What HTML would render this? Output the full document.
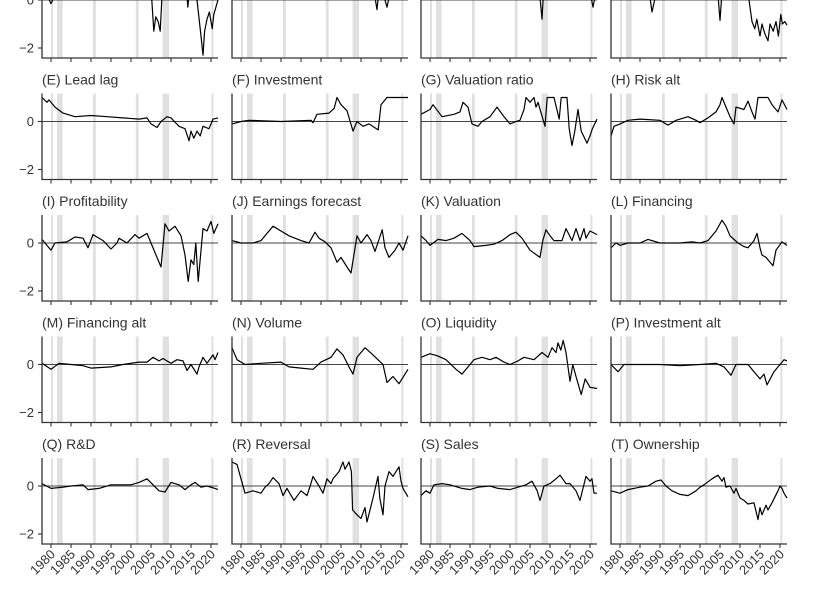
<!DOCTYPE html>
<html><head><meta charset="utf-8">
<style>
html,body{margin:0;padding:0;background:#fff;}
svg{display:block;font-family:"Liberation Sans",sans-serif;}
</style></head>
<body>
<svg id="chart" width="820" height="600" viewBox="0 0 820 600"></svg>
<script>
const recessions = [[1980.0,1980.5],[1981.5,1982.9],[1990.5,1991.2],[2001.2,2001.9],[2007.9,2009.5],[2020.1,2020.4]];
const xTicks = [1980,1985,1990,1995,2000,2005,2010,2015,2020];
const yTicks = [0,-2];
const yTickLabels = ["0","\u22122"];
const titles = ["(A)","(B)","(C)","(D)","(E) Lead lag","(F) Investment","(G) Valuation ratio","(H) Risk alt","(I) Profitability","(J) Earnings forecast","(K) Valuation","(L) Financing","(M) Financing alt","(N) Volume","(O) Liquidity","(P) Investment alt","(Q) R&D","(R) Reversal","(S) Sales","(T) Ownership"];

const seriesA = [[1977.75,0.1],[1979,0.2],[1980,-0.15],[1981,0.2],[1990,0.2],[2004,0.3],[2005.2,0],[2005.7,-1.3],[2006.2,-0.7],[2006.8,-0.9],[2007.3,-1.3],[2007.7,0],[2009,0.2],[2014,0.2],[2014.2,-0.3],[2014.5,0.2],[2016.5,0],[2017.5,-1.5],[2018,-2.3],[2018.4,-1.3],[2019,-0.8],[2019.6,-0.5],[2020.3,-1.2],[2020.7,-0.6],[2021.75,0]];
const seriesB = [[1977.75,0.3],[1990,0.3],[2013.5,0.1],[2014,-0.4],[2014.3,0.1],[2016,0],[2016.5,-0.3],[2017,0.1],[2021.75,0.2]];
const seriesC = [[1977.75,0.2],[1981,0.05],[1982,0.2],[2007.5,0.1],[2008,-0.8],[2008.3,0.1],[2020.3,0.1],[2020.75,-0.3],[2021.2,0.1],[2021.75,0.2]];
const seriesD = [[1977.75,0.3],[1987.5,0.1],[1988,-0.5],[1988.8,0.1],[2004.5,0.2],[2005,-0.85],[2005.4,0.1],[2012,0.3],[2012.5,-0.3],[2013,-0.9],[2013.7,-1.2],[2014.2,-0.8],[2015,-1.5],[2015.5,-1.0],[2016.2,-1.4],[2017,-1.7],[2017.5,-1.0],[2018.3,-1.3],[2019,-0.9],[2019.6,-1.5],[2020.2,-0.6],[2020.6,-1.0],[2021.2,-0.9],[2021.75,-1.05]];
const seriesE = [[1977.75,1.0],[1979,0.8],[1979.5,0.9],[1981,0.6],[1983,0.35],[1986,0.2],[1990,0.25],[1994,0.2],[1998,0.15],[2002,0.1],[2004,0.15],[2005,-0.1],[2006.5,-0.25],[2007.5,0],[2009,0.2],[2010,0.15],[2012,-0.2],[2013.5,-0.3],[2014.5,-0.8],[2015,-0.4],[2015.7,-0.7],[2016.5,-0.4],[2017.3,-0.6],[2018,-0.2],[2019.5,-0.3],[2020.5,0.1],[2021.75,0.15]];
const seriesF = [[1977.75,-0.1],[1980,0],[1982,0.05],[1990,0],[1997.5,0.05],[1998,-0.05],[1999,0.3],[2002,0.35],[2003.3,0.55],[2004,1.0],[2005,0.7],[2006.5,0.45],[2008,-0.4],[2009,0],[2010.5,-0.2],[2012,-0.1],[2014.3,-0.35],[2015,0.7],[2016.5,1.0],[2021.75,1.0]];
const seriesG = [[1977.75,0.3],[1980,0.5],[1980.75,0.7],[1983,0.2],[1986,0.3],[1987.5,0.4],[1988.25,0.8],[1989.5,0.6],[1990.5,-0.1],[1992,-0.2],[1993,0],[1995,0.2],[1996.75,0.6],[1998.5,0.2],[2000,-0.1],[2001.5,0],[2002.5,0.05],[2003.5,0.5],[2004,1.0],[2005,0.8],[2006,1.0],[2006.5,0.6],[2007,0.8],[2008.75,-0.2],[2009.3,1.0],[2011,1.0],[2012.3,0.1],[2012.8,1.0],[2014.25,1.0],[2014.8,-0.3],[2015.5,-1.0],[2016.2,-0.4],[2017,0.5],[2017.8,-0.4],[2019.25,-0.9],[2020,-0.6],[2020.6,-0.3],[2021.75,0.1]];
const seriesH = [[1977.75,-0.6],[1978.5,-0.2],[1980,-0.1],[1982,0.05],[1985,0.1],[1990,0.05],[1992,-0.15],[1994,0.05],[1997,0.2],[1999,0.05],[2000,-0.05],[2002,0.15],[2004,0.4],[2005,0.7],[2005.5,1.0],[2006.5,0.6],[2007.5,0.2],[2008.5,-0.1],[2009,0.6],[2011,0.5],[2012,0.85],[2013,0.4],[2013.75,0.1],[2014.5,1.0],[2017,1.0],[2018,0.7],[2019.5,0.4],[2020.5,0.9],[2021.75,0.5]];
const seriesI = [[1977.75,0.15],[1980,-0.3],[1981,0],[1984,0.05],[1986,0.25],[1988,0.2],[1989.25,-0.2],[1990.5,0.35],[1993,0.1],[1995,-0.25],[1996.5,0],[1997,0.2],[1999,0],[2001,0.35],[2002,0.2],[2004,0.4],[2005,0],[2007.5,-1.0],[2008.5,0.8],[2009.5,0.5],[2011,0.7],[2012.5,0.3],[2013.5,-0.5],[2014.3,-1.6],[2015,-0.7],[2015.7,-0.9],[2016.2,0],[2016.8,-1.6],[2018,0.6],[2019,0.5],[2020,0.9],[2020.7,0.4],[2021.75,0.8]];
const seriesJ = [[1977.75,0.1],[1980,0],[1983,0],[1985,0.1],[1986.5,0.4],[1988,0.7],[1990,0.5],[1992,0.3],[1995,0.1],[1997,0],[1998.5,0.45],[1999.5,0.2],[2001,0.05],[2002.5,-0.2],[2004,-0.8],[2005,-0.6],[2006.5,-1.0],[2007.5,-1.25],[2009,0.3],[2010,0],[2011.5,0.35],[2012.5,0.1],[2013.5,-0.35],[2015.3,0.55],[2016,-0.2],[2017,-0.6],[2018.5,-0.3],[2019.5,0],[2020.5,-0.3],[2021.75,0.3]];
const seriesK = [[1977.75,0.3],[1979,0.1],[1980,-0.1],[1982,0.15],[1984,0.1],[1986,0.2],[1988,0.4],[1990,0.1],[1991,-0.15],[1994,-0.1],[1996,-0.05],[1998,0.1],[2000,0.35],[2001.5,0.45],[2003,0.2],[2005,-0.3],[2007.5,-0.6],[2008.2,0.1],[2009,0.55],[2010,0.3],[2011,0.1],[2013,0.1],[2014,0.6],[2015.5,0.1],[2016.5,0.6],[2017.5,0.1],[2018.5,0.6],[2019,0.2],[2020,0.5],[2021.75,0.35]];
const seriesL = [[1977.75,-0.2],[1979,0],[1980,-0.1],[1982,0],[1985,0],[1987,0.15],[1990,0],[1995,0],[1998,0.05],[2000,0],[2002,0.1],[2004,0.5],[2005.5,0.95],[2006.5,0.7],[2007.5,0.3],[2009.5,0],[2011,-0.15],[2012,-0.2],[2013.5,0.1],[2014.25,0.4],[2015,-0.2],[2015.5,-0.5],[2016.5,-0.6],[2018.25,-0.95],[2019,-0.3],[2020.5,0.05],[2021.75,-0.1]];
const seriesM = [[1977.75,0.05],[1980,-0.2],[1982,0.05],[1985,0],[1988,-0.05],[1990,-0.15],[1995,-0.1],[1998,0],[2002,0.1],[2004,0.1],[2005.5,0.3],[2007,0.15],[2008,0.25],[2010,0.05],[2011.5,0.2],[2013,0.15],[2014,-0.25],[2015,0],[2016.5,-0.4],[2017,-0.1],[2018,0.3],[2019,0.05],[2020.5,0.4],[2021,0.2],[2021.75,0.5]];
const seriesN = [[1977.75,0.7],[1979,0.2],[1981,0],[1985,0.05],[1990,0.1],[1992,-0.1],[1995,-0.15],[1998,-0.2],[2000,0.1],[2002.5,0.3],[2004,0.65],[2005.5,0.4],[2007,-0.1],[2008,-0.4],[2009,0.3],[2011,0.7],[2013,0.4],[2015.5,0],[2016.5,-0.75],[2018,-0.5],[2019.5,-0.8],[2021.75,-0.2]];
const seriesO = [[1977.75,0.3],[1980,0.45],[1982,0.35],[1984,0.2],[1986.5,-0.2],[1988,-0.4],[1990,0],[1991,0.2],[1993,0.3],[1995,0.2],[1996.5,0.3],[1998.5,0.1],[2000,0],[2002,0.15],[2003.5,0.3],[2006,0.2],[2008,0.5],[2009.5,0.3],[2010.5,0.7],[2011.5,0.5],[2012,0.9],[2012.7,0.6],[2013.3,1.0],[2014,0.5],[2015,-0.7],[2015.7,0],[2016.5,-0.5],[2017.8,-1.25],[2018.8,-0.6],[2020,-0.95],[2021.75,-1.0]];
const seriesP = [[1977.75,0],[1979.5,-0.3],[1981,0],[1990,0],[1995,-0.05],[2000,0],[2004,0.05],[2006,-0.1],[2007.75,-0.45],[2009,0],[2012,0],[2013.5,-0.3],[2015,-0.6],[2016,-0.4],[2016.75,-0.85],[2018.5,-0.3],[2019.5,-0.1],[2021,0.2],[2021.75,0.15]];
const seriesQ = [[1977.75,0.1],[1980,-0.1],[1983,-0.05],[1985,0],[1988,0.05],[1989.25,-0.15],[1992,-0.1],[1995,0.05],[2000,0.05],[2002,0.15],[2004,0.3],[2005.5,0.05],[2007,-0.2],[2008.5,-0.25],[2010,0.15],[2012,0.05],[2013.5,-0.15],[2015,0.05],[2016,0.15],[2017.5,-0.05],[2019,0],[2021,-0.1],[2021.75,-0.15]];
const seriesR = [[1977.75,1.0],[1979,0.9],[1980,0.3],[1981,-0.3],[1983,-0.2],[1985,-0.3],[1986,-0.05],[1987,0.1],[1988,0.35],[1989.5,0.1],[1990.5,-0.4],[1991.5,-0.1],[1993.25,-0.6],[1995,-0.2],[1996.5,-0.4],[1997.3,0],[1998,0.4],[1999.5,0],[2000.5,-0.3],[2001.5,0.3],[2002.5,0.1],[2003,0.3],[2004.5,0.6],[2005.5,1.0],[2006,0.7],[2007,1.0],[2007.6,0.6],[2007.9,-1.0],[2009,-1.2],[2010,-1.35],[2011,-0.9],[2011.5,-1.5],[2013,-0.5],[2014.25,0.4],[2014.7,-0.5],[2015.5,-1.2],[2016,0],[2017,0.6],[2018,0.4],[2019.5,0.8],[2020,0.2],[2020.5,-0.1],[2021.75,-0.45]];
const seriesS = [[1977.75,-0.4],[1979,-0.2],[1980,-0.3],[1981,0.05],[1983,0.1],[1985,0.05],[1988,-0.1],[1990,-0.15],[1992,-0.05],[1995,0],[1997,-0.1],[2000,-0.15],[2002,-0.05],[2004,0.05],[2005.5,0.2],[2006.8,-0.2],[2007.5,-0.6],[2008.5,0],[2010,0.1],[2011.5,0.3],[2012.5,0.45],[2014,0.1],[2015,0.1],[2016.5,-0.2],[2017.5,-0.6],[2019,0.4],[2020,0.2],[2020.5,0.3],[2021,-0.3],[2021.75,-0.3]];
const seriesT = [[1977.75,-0.2],[1980,-0.3],[1982,-0.15],[1985,-0.05],[1987,0],[1989,0.2],[1990.25,0.25],[1991.5,0],[1993,-0.2],[1995,-0.35],[1997,-0.4],[1999,-0.2],[2000,-0.05],[2001,0.05],[2003,0.3],[2004.5,0.45],[2005.5,0.2],[2006,0.35],[2006.5,-0.05],[2007.5,0],[2008.5,-0.3],[2009,-0.1],[2010,-0.5],[2011,-0.6],[2012,-0.75],[2013.5,-0.7],[2014.5,-1.4],[2015,-0.9],[2015.5,-1.2],[2016.5,-0.8],[2017,-1.0],[2018,-0.7],[2019.5,-0.2],[2020,0],[2020.5,-0.1],[2021,-0.3],[2021.75,-0.5]];

const allSeries = [seriesA,seriesB,seriesC,seriesD,seriesE,seriesF,seriesG,seriesH,seriesI,seriesJ,seriesK,seriesL,seriesM,seriesN,seriesO,seriesP,seriesQ,seriesR,seriesS,seriesT];

const NS = "http://www.w3.org/2000/svg";
const svg = document.getElementById("chart");
const colLeft = [42,232,421,611];
const rowZero = [0,121.5,243,364.5,486];
const W = 176, T0 = 1977.75, PX = W/44;
const UNIT = 24, TOP = 28, BOT = 58;

function mk(tag, attrs, parent){
  const e = document.createElementNS(NS, tag);
  for (const k in attrs) e.setAttribute(k, attrs[k]);
  (parent||svg).appendChild(e);
  return e;
}

allSeries.forEach((ser, i) => {
  const r = Math.floor(i/4), c = i%4;
  const L = colLeft[c], Z = rowZero[r];
  const xs = t => L + (t - T0) * PX;
  const ys = v => Z - v * UNIT;
  const g = mk("g", {});
  
  
  recessions.forEach(rc => {
    const b = mk("rect", {x: xs(rc[0]), y: Z-TOP, width: Math.max(2,(rc[1]-rc[0])*PX), height: TOP+BOT, fill: "#e0e0e0"}, g);
    
    
  });
  const zl = mk("line", {x1: L, x2: L+W, y1: ys(0), y2: ys(0), stroke: "#444", "stroke-width": 1.1}, g);
  
  
  const d = ser.map((p, k) => (k ? "L" : "M") + xs(p[0]).toFixed(2) + " " + ys(p[1]).toFixed(2)).join(" ");
  const ln = mk("path", {d: d, fill: "none", stroke: "#000", "stroke-width": 1.2, "stroke-linejoin": "round"}, g);
  
  
  const ax = mk("path", {d: `M${L} ${Z-TOP} L${L} ${Z+BOT} L${L+W} ${Z+BOT}`, fill: "none", stroke: "#333", "stroke-width": 1.3}, g);
  
  
  if (c === 0) {
    yTicks.forEach((v, k) => {
      mk("line", {x1: L-4, x2: L, y1: ys(v), y2: ys(v), stroke: "#333", "stroke-width": 1.1}, g);
      const tl = mk("text", {x: L-8, y: ys(v)+4.5, "text-anchor": "end", "font-size": 13, fill: "#333"}, g);
      tl.textContent = yTickLabels[k];
      
      
    });
  }
  xTicks.forEach(t => {
    mk("line", {x1: xs(t), x2: xs(t), y1: Z+BOT, y2: Z+BOT+4, stroke: "#333", "stroke-width": 1.1}, g);
    if (r === 4) {
      const tx = mk("text", {x: 0, y: 0, "text-anchor": "end", "font-size": 13, fill: "#333",
        transform: `translate(${xs(t)+5},${Z+BOT+11}) rotate(-45)`}, g);
      tx.textContent = t;
      
      
    }
  });
  const tt = mk("text", {x: L, y: Z-37, "font-size": 14, fill: "#333"}, g);
  tt.textContent = titles[i];
  
  
});
</script>
</body></html>
